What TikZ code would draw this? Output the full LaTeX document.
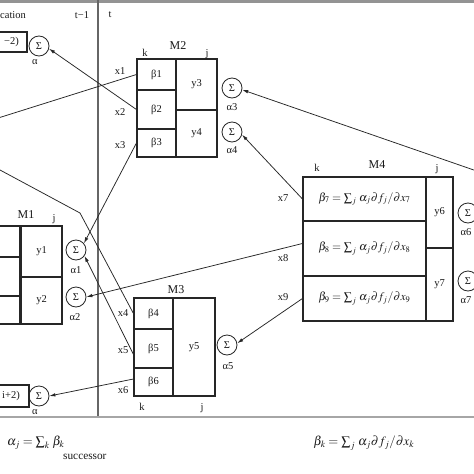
\documentclass[tikz,border=0pt]{standalone}
\usepackage{mathptmx}
\usepackage[no-math]{fontspec}
\setmainfont{Liberation Serif}
\usetikzlibrary{arrows.meta}
\newcommand\lblfont{\fontsize{10.5}{12}\selectfont}
\newcommand\mfont{\fontsize{12}{14}\selectfont}
\newcommand\fmfont{\fontsize{11.6}{14}\selectfont}
\newcommand\btfont{\fontsize{12.8}{15}\selectfont}
\begin{document}
\begin{tikzpicture}[x=1pt,y=-1pt,
  every node/.style={font=\lblfont, text=black!90},
  cell/.style={draw=black!85, line width=1.1pt, inner sep=0pt},
  fcell/.style={cell, font=\fmfont},
  sig/.style={circle, draw=black!85, line width=0.8pt, minimum size=20pt, inner sep=0pt},
  lbl/.style={inner sep=0pt},
  mlbl/.style={inner sep=0pt, anchor=base, font=\mfont},
  kj/.style={inner sep=0pt, anchor=base},
  conn/.style={line width=0.75pt, draw=black!85},
  arr/.style={conn, -{Latex[length=6pt,width=3.5pt]}}]
\useasboundingbox (0,0) rectangle (474,474);
\clip (0,0) rectangle (474,474);
\fill[white] (0,0) rectangle (474,474);

% frame
\draw[gray!85, line width=3pt] (0,1.5) -- (474,1.5);
\draw[gray!70, line width=2.5pt] (0,417) -- (474,417);
\draw[black!60, line width=1.4pt] (98,0) -- (98,416);
\node[lbl, anchor=west] (ttl) at (0,15) {cation};
\node[lbl] (tm1) at (82,15) {t−1};
\node[lbl] (tt) at (110,15) {t};

% left partial boxes
\node[cell, minimum width=57pt, minimum height=20pt] (lb1) at (-1.5,42) {};
\node[lbl, anchor=east] (lb1t) at (19,42) {−2)};
\node[cell, minimum width=59pt, minimum height=22pt] (lb2) at (-0.5,396) {};
\node[lbl, anchor=east] (lb2t) at (20,396) {i+2)};

% M2
\node[cell, minimum width=39pt, minimum height=31pt] (b1) at (156.5,74.5) {β1};
\node[cell, minimum width=39pt, minimum height=39pt] (b2) at (156.5,109.5) {β2};
\node[cell, minimum width=39pt, minimum height=28pt] (b3) at (156.5,143) {β3};
\node[cell, minimum width=41pt, minimum height=51pt] (y3) at (196.5,84.5) {y3};
\node[cell, minimum width=41pt, minimum height=47pt] (y4) at (196.5,133.5) {y4};
\node[kj] (k2) at (145,56) {k};
\node[mlbl] (M2) at (178,49) {M2};
\node[kj] (j2) at (207,56) {j};
\node[lbl] (x1) at (120,71) {x1};
\node[lbl] (x2) at (120,112) {x2};
\node[lbl] (x3) at (120,145) {x3};

% M1
\node[cell, minimum width=39pt, minimum height=31pt] (m1a) at (0.5,241.5) {};
\node[cell, minimum width=39pt, minimum height=39pt] (m1b) at (0.5,276.5) {};
\node[cell, minimum width=39pt, minimum height=28pt] (m1c) at (0.5,310) {};
\node[cell, minimum width=41pt, minimum height=51pt] (y1) at (41.5,251.5) {y1};
\node[cell, minimum width=41pt, minimum height=47pt] (y2) at (41.5,300.5) {y2};
\node[mlbl] (M1) at (26,218) {M1};
\node[kj] (j1) at (54,221) {j};

% M3
\node[cell, minimum width=39pt, minimum height=31pt] (b4) at (153.5,313.5) {β4};
\node[cell, minimum width=39pt, minimum height=39pt] (b5) at (153.5,348.5) {β5};
\node[cell, minimum width=39pt, minimum height=28pt] (b6) at (153.5,382) {β6};
\node[cell, minimum width=42pt, minimum height=98pt] (y5) at (194,347) {y5};
\node[mlbl] (M3) at (176,293) {M3};
\node[kj] (k3) at (142,410) {k};
\node[kj] (j3) at (202,410) {j};
\node[lbl] (x4) at (123,313) {x4};
\node[lbl] (x5) at (123,350) {x5};
\node[lbl] (x6) at (123,390) {x6};

% M4
\node[fcell, minimum width=123pt, minimum height=44pt] (b7) at (364.5,199) {$\beta_7=\sum_j\,\alpha_j\partial f_j/\partial x_7$};
\node[fcell, minimum width=123pt, minimum height=55pt] (b8) at (364.5,248.5) {$\beta_8=\sum_j\,\alpha_j\partial f_j/\partial x_8$};
\node[fcell, minimum width=123pt, minimum height=45pt] (b9) at (364.5,298.5) {$\beta_9=\sum_j\,\alpha_j\partial f_j/\partial x_9$};
\node[cell, minimum width=27pt, minimum height=71pt] (y6) at (439.5,212.5) {y6};
\node[cell, minimum width=27pt, minimum height=73pt] (y7) at (439.5,284.5) {y7};
\node[kj] (k4) at (317,171) {k};
\node[mlbl] (M4) at (377,168) {M4};
\node[kj] (j4) at (437,171) {j};
\node[lbl] (x7) at (283,198) {x7};
\node[lbl] (x8) at (283,258) {x8};
\node[lbl] (x9) at (283,297) {x9};

% sums
\node[sig] (aT) at (39,46) {Σ};
\node[lbl] (laT) at (35,62) {α};
\node[sig] (aB) at (39,396) {Σ};
\node[lbl] (laB) at (35,412) {α};
\node[sig] (a1) at (76,250) {Σ};
\node[lbl] (la1) at (76,270) {α1};
\node[sig] (a2) at (76,297) {Σ};
\node[lbl] (la2) at (75,317) {α2};
\node[sig] (a3) at (232,88) {Σ};
\node[lbl] (la3) at (232,107) {α3};
\node[sig] (a4) at (232,132) {Σ};
\node[lbl] (la4) at (232,150) {α4};
\node[sig] (a5) at (227,345) {Σ};
\node[lbl] (la5) at (228,366) {α5};
\node[sig] (a6) at (468,213) {Σ};
\node[lbl] (la6) at (466,232) {α6};
\node[sig] (a7) at (468,281) {Σ};
\node[lbl] (la7) at (466,300) {α7};

% formulas
\node[lbl, anchor=west, font=\btfont] (fa) at (7,443) {$\alpha_j=\sum_k\,\beta_k$};
\node[lbl, anchor=west, font=\fontsize{11.3}{13}\selectfont] (fsucc) at (63,457) {successor};
\node[lbl, font=\btfont] (fb) at (364,443) {$\beta_k=\sum_j\,\alpha_j\partial f_j/\partial x_k$};

% connectors
\coordinate (oL1) at (-40,130);
\coordinate (oL2) at (-40,148.5);
\coordinate (bend) at (80,213);
\coordinate (oR) at (520,186);
\draw[conn] (b1.west) -- (oL1);
\draw[conn] (b4.west) -- (bend) -- (oL2);
\draw[arr] (b2.west) -- (aT.-15);
\draw[arr] (b3.west) -- (a1.40);
\draw[arr] ([yshift=-6pt]b5.west) -- (a1.-35);
\draw[arr] ([yshift=3pt]b6.west) -- (aB.east);
\draw[arr] ([yshift=5pt]b8.west) -- (a2.east);
\draw[arr] (b7.west) -- (a4.-15);
\draw[arr] (oR) -- (a3.-10);
\draw[arr] (b9.west) -- (a5.10);
\end{tikzpicture}
\end{document}
